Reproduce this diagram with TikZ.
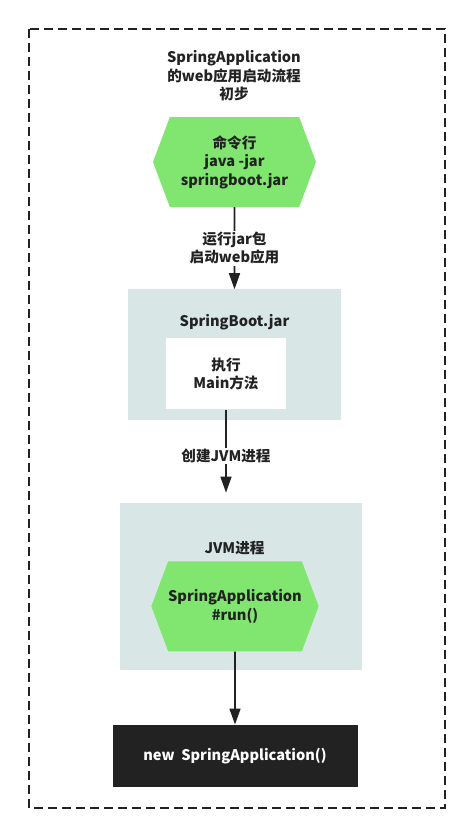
\documentclass[tikz,border=0pt]{standalone}
\usepackage{fontspec}
\setmainfont{Noto Sans CJK SC}
\usetikzlibrary{positioning,shapes.symbols,arrows.meta}

\definecolor{hexgreen}{RGB}{128,230,112}
\definecolor{panelgray}{RGB}{216,230,230}
\definecolor{inkdark}{RGB}{34,34,34}

\tikzset{
  hexa/.style={signal, signal to=east and west, signal pointer angle=139,
    fill=hexgreen, minimum width=163pt, minimum height=90pt, inner sep=0pt, align=center},
  panel/.style={fill=panelgray, inner sep=0pt},
  mainbox/.style={fill=white, inner sep=0pt, align=center},
  flow/.style={draw=inkdark, line width=1.6pt, -{Triangle[width=11pt,length=16pt]}},
  lbl/.style={fill=white, align=center, inner sep=1pt},
}

\begin{document}
\begin{tikzpicture}[x=1pt, y=-1pt, text=inkdark,
    font=\fontsize{14.6}{18.5}\selectfont\bfseries]

  \useasboundingbox (0,0) rectangle (474,838);
  \draw[inkdark, line width=1.3pt, dash pattern=on 9pt off 5pt] (29,29) rectangle (445,808);

  \node[align=center] (title) at (234,76) {SpringApplication\\的web应用启动流程\\初步};

  \node[hexa] (cmd) at (234.5,162) {命令行\\java -jar\\springboot.jar};

  \node[panel, minimum width=213pt, minimum height=131pt] (jar) [below=82pt of cmd] {};
    \node (jarname) at ([yshift=-33pt]jar.north) {SpringBoot.jar};
    \node[mainbox, minimum width=120pt, minimum height=71pt] (main) at ([xshift=-8.5pt,yshift=-19pt]jar.center) {执行\\Main方法};

  \node[panel, minimum width=242pt, minimum height=167pt] (jvm) [below=82pt of jar, xshift=6.5pt] {};
    \node (jvmname) at ([xshift=-6.5pt,yshift=-45pt]jvm.north) {JVM进程};
    \node[hexa] (run) at ([xshift=-6pt,yshift=-20pt]jvm.center) {SpringApplication\\\#run()};

  \node[fill=inkdark, text=white, minimum width=245pt, minimum height=62pt] (newapp) [below=73pt of run] {new\ \ SpringApplication()};

  \draw[flow] (cmd) -- node[lbl] {运行jar包\\启动web应用} (jar);
  \draw[flow, shorten >=10pt] (main) -- node[lbl] {创建JVM进程} (main.south |- jvm.north);
  \draw[flow] (run) -- (newapp);

\end{tikzpicture}
\end{document}
